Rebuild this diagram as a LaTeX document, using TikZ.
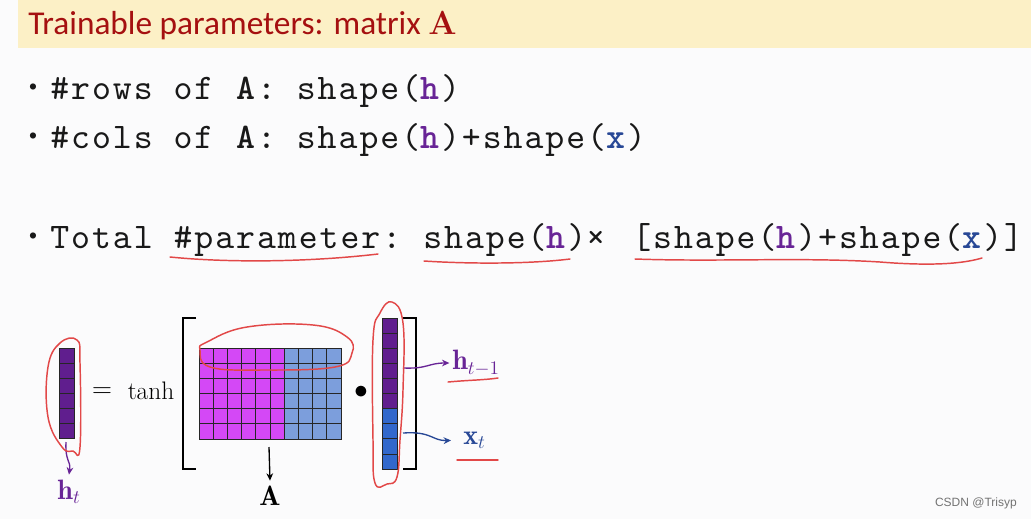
\documentclass[tikz,border=0pt]{standalone}
\usepackage{fontspec}
\usepackage{amsmath}
\usetikzlibrary{arrows.meta,positioning}
\newfontfamily\titlefont{Carlito}
\newfontfamily\codefont{lmmono10-regular.otf}[LetterSpace=5.5,BoldFont=lmmonolt10-bold.otf]
\newfontfamily\markfont{Liberation Sans}
\definecolor{pagebg}{RGB}{251,251,252}
\definecolor{titlebg}{RGB}{252,240,198}
\definecolor{titlered}{RGB}{165,16,16}
\definecolor{codegray}{RGB}{25,25,25}
\definecolor{hpurple}{RGB}{104,36,150}
\definecolor{xblue}{RGB}{40,72,150}
\definecolor{hdark}{RGB}{96,30,142}
\definecolor{apink}{RGB}{212,72,246}
\definecolor{alight}{RGB}{124,158,220}
\definecolor{xcell}{RGB}{50,104,204}
\definecolor{penred}{RGB}{226,72,72}
\newcommand{\hvar}{\textcolor{hpurple}{\textbf{h}}}
\newcommand{\xvar}{\textcolor{xblue}{\textbf{x}}}

\begin{document}
\begin{tikzpicture}[x=0.75pt,y=-0.75pt]
            \tikzset{codeline/.style={anchor=base west,inner sep=0pt,text=codegray,font=\codefont\fontsize{27}{30}\selectfont}}
            \tikzset{bulletmark/.style={inner sep=0pt,text=codegray,font=\markfont\fontsize{17}{20}\selectfont}}
            \tikzset{penline/.style={draw=penred,line width=1.1pt,line cap=round,line join=round}}
            \tikzset{cell/.style={draw=black!85,line width=0.6pt}}
            \tikzset{bracket/.style={draw=black,line width=2.2pt}}
            \tikzset{pointer/.style={-{Stealth[length=5.5pt,width=5pt]},line width=1pt}}
            \tikzset{veclabel/.style={inner sep=0pt,font=\fontsize{21}{24}\selectfont}}
            % \tikzset{cell/.append style={very thick}}
            \useasboundingbox (0,0) rectangle (1031,519);
            \fill[pagebg] (0,0) rectangle (1031,519);
            \fill[titlebg] (18,0) rectangle (1031,48);
            \node[anchor=base west,inner sep=0pt,text=titlered,font=\titlefont\fontsize{25}{30}\selectfont]
                (title) at (28,34) {Trainable parameters: matrix {\rmfamily\bfseries A}};
            % bullet lines
            \node[bulletmark] (b1) at (33,89) {•};
            \node[bulletmark] (b2) at (33,138) {•};
            \node[bulletmark] (b3) at (33,238) {•};
            \node[codeline] (rows) at (50,99) {\#rows of \textbf{A}: shape(\hvar)};
            \node[codeline] (cols) at (50,148) {\#cols of \textbf{A}: shape(\hvar)+shape(\xvar)};
            \node[codeline] (total) at (50,248) {Total \#parameter:};
            \node[codeline] (prodh) at (423,248) {shape(\hvar)};
            \node[codeline] (times) at (586,248) {×};
            \node[codeline] (sumhx) at (632,248) {[shape(\hvar)+shape(\xvar)]};
            \draw[penline] (170,257) .. controls (230,263) and (310,262) .. (378,254);
            \draw[penline] (424,261) .. controls (470,264) and (530,264) .. (570,259);
            \draw[penline] (635,259) .. controls (720,262) and (800,257) .. (880,262)
                .. controls (930,266) and (962,264) .. (982,258);
            % h_t
            \foreach \k in {0,...,5}
                \draw[cell,fill=hdark] (59,{348+15*\k}) rectangle ++(15,15);
            \node[veclabel] (eq) at (102,393) {$=$};
            \node[veclabel,font=\fontsize{19}{20}\selectfont] (tanh) at (151,391) {tanh};
            \draw[bracket] (196,318) -- (183,318) -- (183,469) -- (196,469);
            % matrix A
            \foreach \i in {0,...,5}
                \foreach \j in {0,...,5}
                    \draw[cell,fill=apink] ({199+14.2*\i},{348+15.17*\j}) rectangle ++(14.2,15.17);
            \foreach \i in {6,...,9}
                \foreach \j in {0,...,5}
                    \draw[cell,fill=alight] ({199+14.2*\i},{348+15.17*\j}) rectangle ++(14.2,15.17);
            \node[veclabel] (dot) at (361,392) {$\bullet$};
            % [h_{t-1}; x_t]
            \foreach \k in {0,...,5}
                \draw[cell,fill=hdark] (382,{318+15.1*\k}) rectangle ++(15,15.1);
            \foreach \k in {6,...,9}
                \draw[cell,fill=xcell] (382,{318+15.1*\k}) rectangle ++(15,15.1);
            \draw[bracket] (403,318) -- (416,318) -- (416,469) -- (403,469);
            % labels and pointers
            \coordinate (htfoot) at (66,442);
            \coordinate (Afoot) at (269,447);
            \coordinate (hprev) at (403,368);
            \coordinate (xcur) at (403,433);
            \node[veclabel,text=hpurple] (htlab) at (69,492) {$\mathbf{h}_t$};
            \node[veclabel] (Alab) at (270,496) {$\mathbf{A}$};
            \node[veclabel,text=hpurple,anchor=west] (hlab) at (452,363) {$\mathbf{h}_{t-1}$};
            \node[veclabel,text=xblue,anchor=west] (xlab) at (463,440) {$\mathbf{x}_t$};
            \draw[pointer,hpurple] (htfoot) .. controls (65,462) and (71,460) .. ([yshift=4pt]htlab.north);
            \draw[pointer] (Afoot) -- ([yshift=4pt]Alab.north);
            \draw[pointer,hpurple] (hprev) .. controls (428,369) and (428,363) .. ([xshift=-2pt]hlab.west);
            \draw[pointer,xblue,shorten >=9pt] (xcur) .. controls (432,431) and (432,441) .. (xlab.west);
            % pen marks
            \draw[penline] plot[smooth cycle,tension=0.7] coordinates {(77,340) (80,363) (80,447) (73,451) (62,447) (48,417) (48,367) (60,343)};
            \draw[penline] plot[smooth cycle,tension=0.7] coordinates {(200,350) (210,367) (263,370) (335,367) (352,353) (347,337) (313,325) (247,327) (207,342)};
            \draw[penline] plot[smooth cycle,tension=0.7] coordinates {(392,302) (403,323) (403,390) (400,440) (397,477) (387,484) (375,483) (373,440) (373,340) (380,313)};
            \draw[penline] (448,382) .. controls (470,380) and (485,380) .. (498,378);
            \draw[penline] (457,460) -- (498,460);
            \node[anchor=east,inner sep=0pt,text=black!55,font=\markfont\fontsize{9}{10}\selectfont] (mark) at (1017,503) {CSDN @Trisyp};
\end{tikzpicture}
\end{document}
